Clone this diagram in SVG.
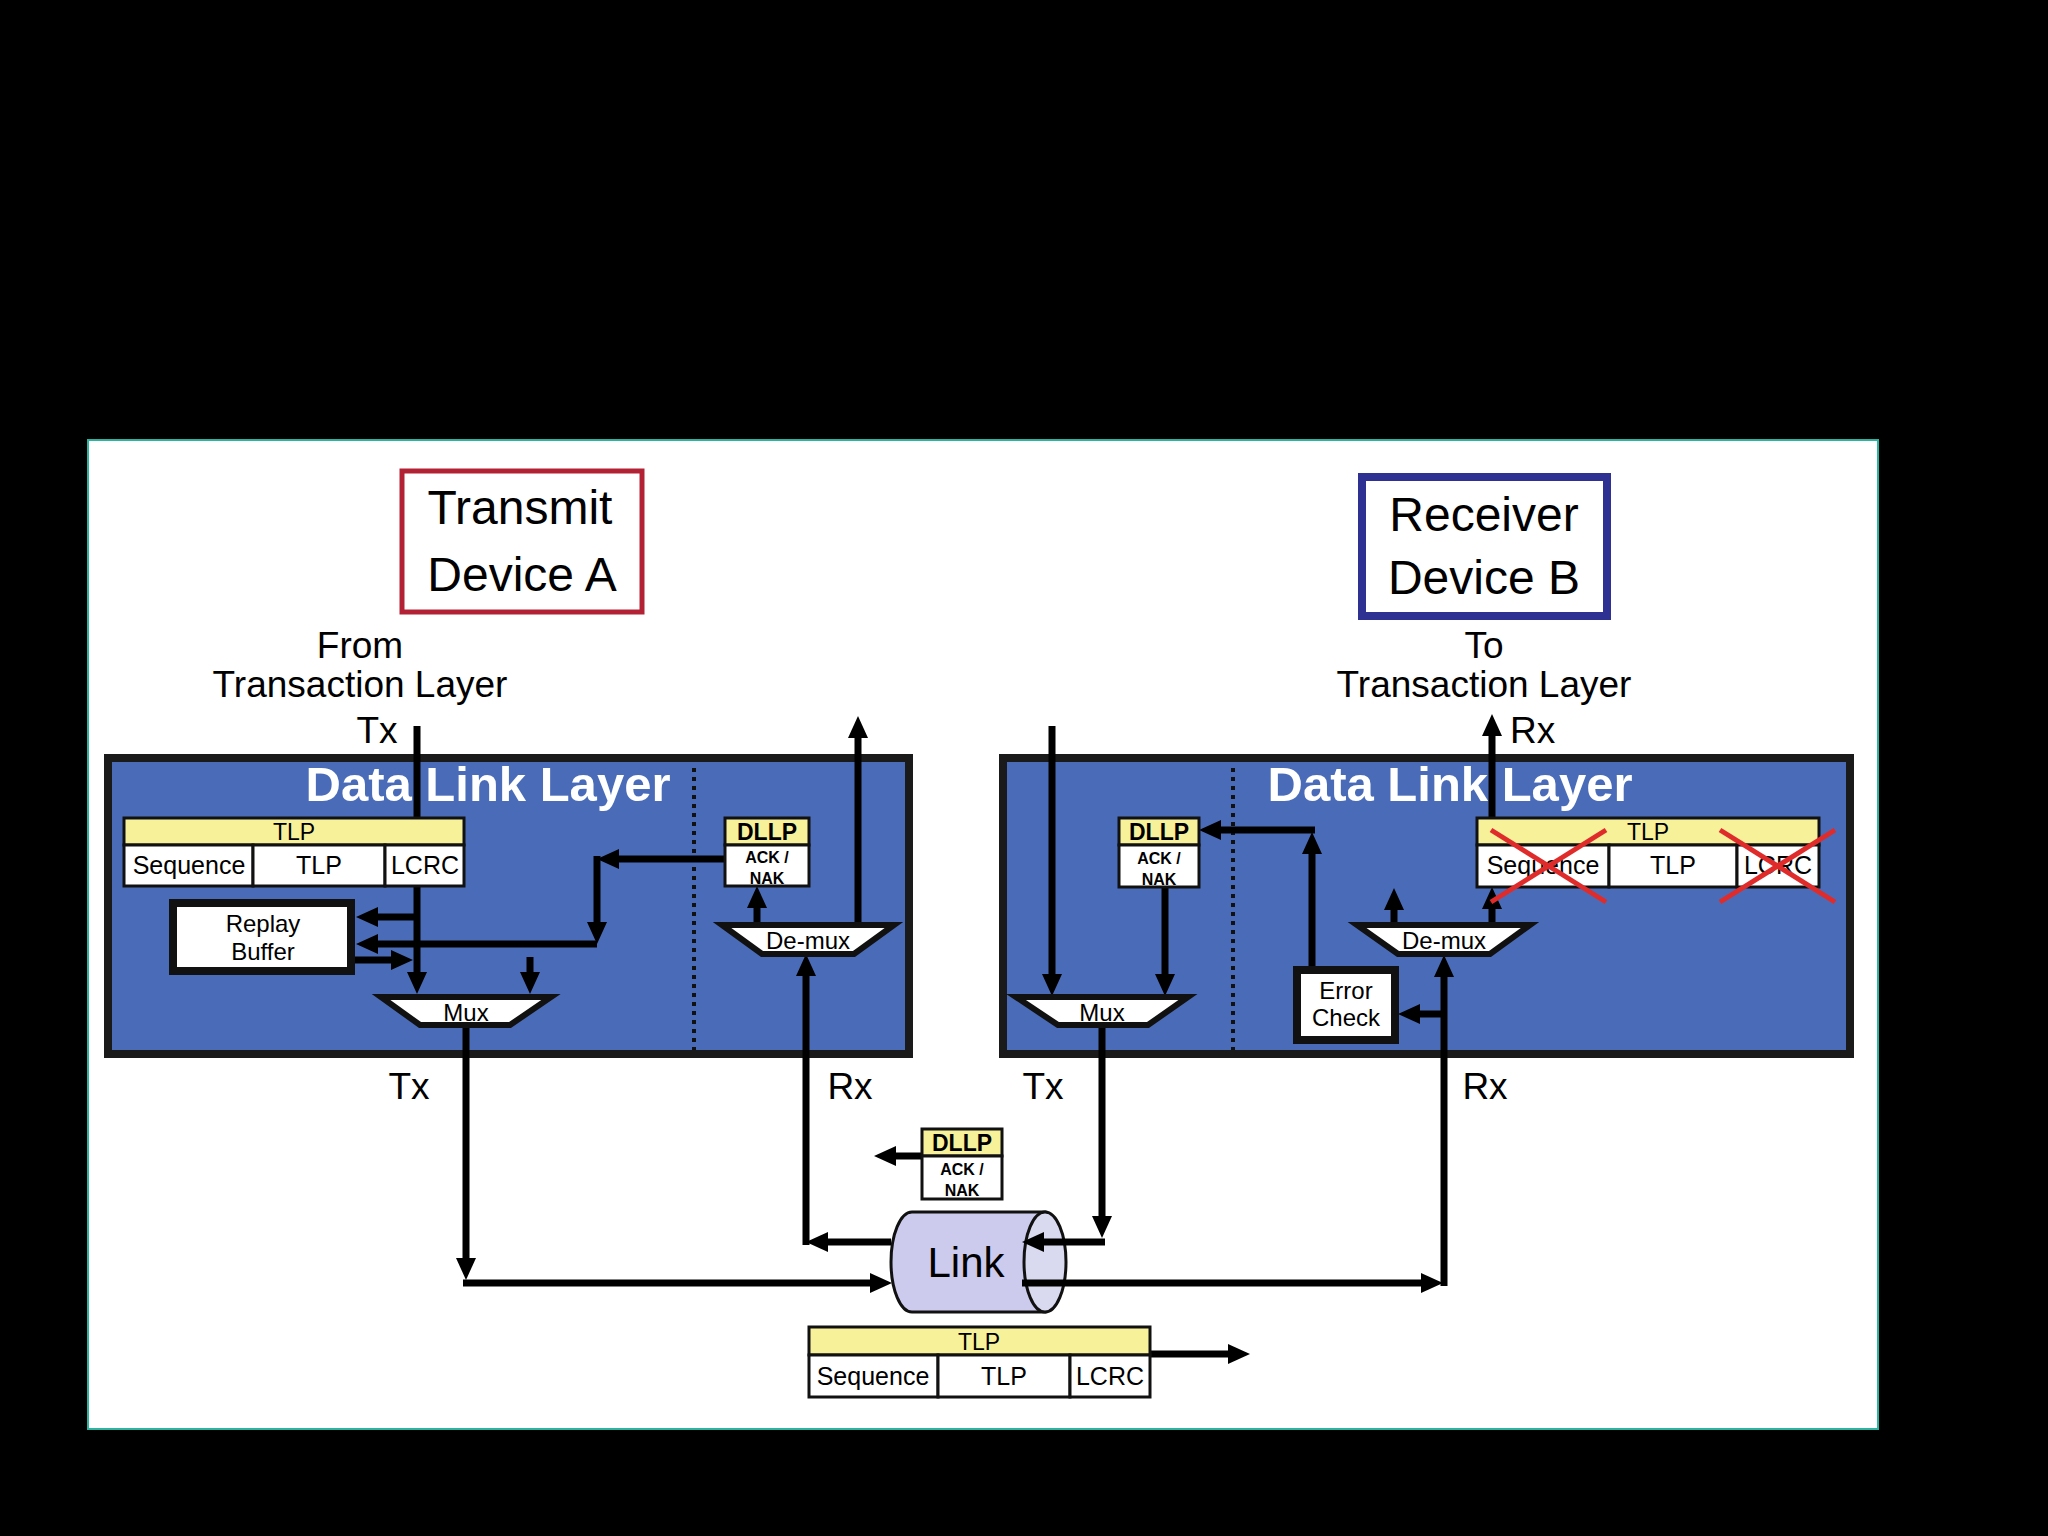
<svg xmlns="http://www.w3.org/2000/svg" width="2048" height="1536" viewBox="0 0 2048 1536">
<defs>
<style>
text{font-family:"Liberation Sans",Arial,sans-serif;fill:#000}
.title{font-size:48px;text-anchor:middle}
.lbl{font-size:37px;text-anchor:middle}
.lbs{font-size:37px;text-anchor:start}
.dll{fill:#4a6cb8;stroke:#1a1a1a;stroke-width:8}
.dllt{font-size:49px;font-weight:bold;fill:#fff;text-anchor:middle}
.dot{stroke:#111;stroke-width:4;stroke-dasharray:4 5}
.cell{fill:#fff;stroke:#111;stroke-width:3}
.hdr{fill:#f7f29a;stroke:#111;stroke-width:3}
.ct{font-size:25px;text-anchor:middle}
.ht{font-size:23px;text-anchor:middle}
.dl{font-size:23px;text-anchor:middle;font-weight:bold}
.sm{font-size:16px;text-anchor:middle;font-weight:bold}
.box{fill:#fff;stroke:#111;stroke-width:8}
.bt{font-size:24px;text-anchor:middle}
.trap{fill:#fff;stroke:#111;stroke-width:6;stroke-linejoin:miter}
.conn path{fill:none;stroke:#000;stroke-width:7}
.conn path.a{marker-end:url(#ah)}
.x{stroke:#e02b2b;stroke-width:5}
</style>
<marker id="ah" viewBox="0 0 22 20" markerWidth="22" markerHeight="20" refX="12" refY="10" orient="auto" markerUnits="userSpaceOnUse">
<path d="M0,0 L22,10 L0,20 z" fill="#000"/>
</marker>
</defs>
<rect x="0" y="0" width="2048" height="1536" fill="#000"/>
<rect x="88" y="440" width="1790" height="989" fill="#fff" stroke="#2bb5a0" stroke-width="2"/>

<g id="transmit">
<rect x="402" y="471" width="240" height="141" fill="#fff" stroke="#b22234" stroke-width="5"/>
<text class="title" x="520" y="524">Transmit</text>
<text class="title" x="522" y="591">Device A</text>
</g>
<g id="receiver">
<rect x="1362" y="477" width="245" height="139" fill="#fff" stroke="#2e3192" stroke-width="8"/>
<text class="title" x="1484" y="531">Receiver</text>
<text class="title" x="1484" y="594">Device B</text>
</g>

<g id="labels">
<text class="lbl" x="360" y="658">From</text>
<text class="lbl" x="360" y="697">Transaction Layer</text>
<text class="lbl" x="377" y="743">Tx</text>
<text class="lbl" x="1484" y="658">To</text>
<text class="lbl" x="1484" y="697">Transaction Layer</text>
<text class="lbs" x="1510" y="743">Rx</text>
<text class="lbl" x="409" y="1099">Tx</text>
<text class="lbl" x="850" y="1099">Rx</text>
<text class="lbl" x="1043" y="1099">Tx</text>
<text class="lbl" x="1485" y="1099">Rx</text>
</g>

<g id="dll-left">
<rect class="dll" x="108" y="758" width="801" height="296"/>
<line class="dot" x1="694" y1="768" x2="694" y2="1050"/>
</g>
<g id="dll-right">
<rect class="dll" x="1003" y="758" width="847" height="296"/>
<line class="dot" x1="1233" y1="768" x2="1233" y2="1050"/>
</g>

<g id="link">
<path d="M912,1212 H1045 V1312 H912 A21,50 0 0 1 912,1212 z" fill="#cccbee" stroke="#111" stroke-width="3"/>
<ellipse cx="1045" cy="1262" rx="21" ry="50" fill="#d9d9ef" stroke="#111" stroke-width="3"/>
<text x="966" y="1277" style="font-size:42px;text-anchor:middle">Link</text>
</g>

<g class="conn" id="connectors">
<path class="a" d="M417,726 V984"/>
<path class="a" d="M417,917 H366"/>
<path class="a" d="M597,944 H366"/>
<path class="a" d="M354,960 H403"/>
<path class="a" d="M725,859 H607"/>
<path class="a" d="M597,856 V934"/>
<path class="a" d="M530,957 V984"/>
<path class="a" d="M466,1025 V1270"/>
<path class="a" d="M463,1283 H882"/>
<path class="a" d="M891,1242 H816"/>
<path class="a" d="M806,1245 V964"/>
<path class="a" d="M757,925 V896"/>
<path class="a" d="M858,925 V726"/>
<path class="a" d="M1052,726 V986"/>
<path class="a" d="M1165,887 V986"/>
<path class="a" d="M1312,967 V842"/>
<path class="a" d="M1315,830 H1209"/>
<path class="a" d="M1102,1025 V1228"/>
<path class="a" d="M1105,1242 H1032"/>
<path class="a" d="M1022,1283 H1433"/>
<path class="a" d="M1444,1286 V965"/>
<path class="a" d="M1444,1014 H1408"/>
<path class="a" d="M1394,925 V898"/>
<path class="a" d="M1492,925 V897"/>
<path class="a" d="M1492,818 V724"/>
<path class="a" d="M922,1156 H884"/>
<path class="a" d="M1149,1354 H1240"/>
</g>

<text class="dllt" x="488" y="801">Data Link Layer</text>
<text class="dllt" x="1450" y="801">Data Link Layer</text>

<g id="tlp-left">
<rect class="hdr" x="124" y="818" width="340" height="27"/>
<rect class="cell" x="124" y="845" width="129" height="41"/>
<rect class="cell" x="253" y="845" width="132" height="41"/>
<rect class="cell" x="385" y="845" width="79" height="41"/>
<text class="ht" x="294" y="840">TLP</text>
<text class="ct" x="189" y="874">Sequence</text>
<text class="ct" x="319" y="874">TLP</text>
<text class="ct" x="425" y="874">LCRC</text>
</g>

<g id="replay-buffer">
<rect class="box" x="173" y="903" width="178" height="68"/>
<text class="bt" x="263" y="932">Replay</text>
<text class="bt" x="263" y="960">Buffer</text>
</g>

<g id="mux-left">
<polygon class="trap" points="381,997 551,997 510,1025 420,1025"/>
<text class="bt" x="466" y="1021">Mux</text>
</g>

<g id="dllp-left">
<rect class="hdr" x="725" y="818" width="84" height="27"/>
<rect class="cell" x="725" y="845" width="84" height="41"/>
<text class="dl" x="767" y="840">DLLP</text>
<text class="sm" x="767" y="863">ACK /</text>
<text class="sm" x="767" y="884">NAK</text>
</g>

<g id="demux-left">
<polygon class="trap" points="722,925 894,925 854,954 762,954"/>
<text class="bt" x="808" y="949">De-mux</text>
</g>

<g id="dllp-right">
<rect class="hdr" x="1119" y="818" width="80" height="27"/>
<rect class="cell" x="1119" y="845" width="80" height="42"/>
<text class="dl" x="1159" y="840">DLLP</text>
<text class="sm" x="1159" y="864">ACK /</text>
<text class="sm" x="1159" y="885">NAK</text>
</g>

<g id="mux-right">
<polygon class="trap" points="1016,997 1188,997 1148,1025 1058,1025"/>
<text class="bt" x="1102" y="1021">Mux</text>
</g>

<g id="error-check">
<rect class="box" x="1297" y="970" width="98" height="70"/>
<text class="bt" x="1346" y="999">Error</text>
<text class="bt" x="1346" y="1026">Check</text>
</g>

<g id="demux-right">
<polygon class="trap" points="1357,925 1530,925 1490,954 1398,954"/>
<text class="bt" x="1444" y="949">De-mux</text>
</g>

<g id="tlp-right">
<rect class="hdr" x="1477" y="818" width="342" height="27"/>
<rect class="cell" x="1477" y="845" width="132" height="42"/>
<rect class="cell" x="1609" y="845" width="128" height="42"/>
<rect class="cell" x="1737" y="845" width="82" height="42"/>
<text class="ht" x="1648" y="840">TLP</text>
<text class="ct" x="1543" y="874">Sequence</text>
<text class="ct" x="1673" y="874">TLP</text>
<text class="ct" x="1778" y="874">LCRC</text>
<line class="x" x1="1491" y1="830" x2="1606" y2="902"/>
<line class="x" x1="1606" y1="830" x2="1491" y2="902"/>
<line class="x" x1="1720" y1="830" x2="1835" y2="902"/>
<line class="x" x1="1835" y1="830" x2="1720" y2="902"/>
</g>

<g id="dllp-link">
<rect class="hdr" x="922" y="1129" width="80" height="27"/>
<rect class="cell" x="922" y="1156" width="80" height="43"/>
<text class="dl" x="962" y="1151">DLLP</text>
<text class="sm" x="962" y="1175">ACK /</text>
<text class="sm" x="962" y="1196">NAK</text>
</g>

<g id="tlp-bottom">
<rect class="hdr" x="809" y="1327" width="341" height="28"/>
<rect class="cell" x="809" y="1355" width="129" height="42"/>
<rect class="cell" x="938" y="1355" width="132" height="42"/>
<rect class="cell" x="1070" y="1355" width="80" height="42"/>
<text class="ht" x="979" y="1350">TLP</text>
<text class="ct" x="873" y="1385">Sequence</text>
<text class="ct" x="1004" y="1385">TLP</text>
<text class="ct" x="1110" y="1385">LCRC</text>
</g>
</svg>
